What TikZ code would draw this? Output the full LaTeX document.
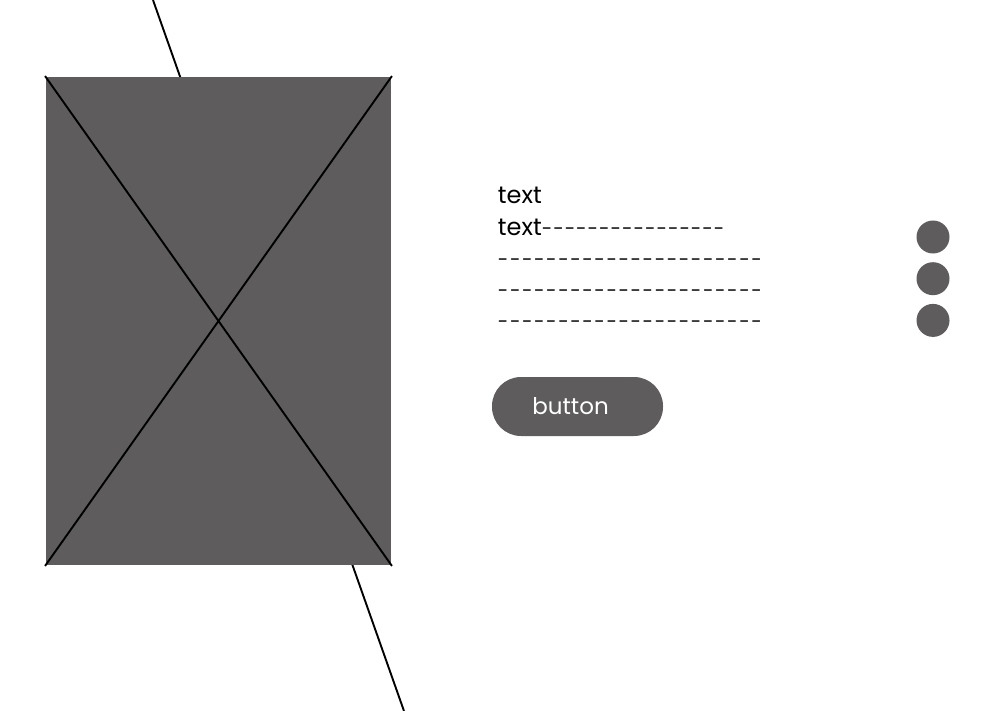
\documentclass[tikz,border=0pt]{standalone}
\usepackage{fontspec}
\setmainfont{Poppins}
\newfontfamily\dashfont[LetterSpace=8.4]{Poppins}
\usetikzlibrary{positioning}
\definecolor{wiregray}{RGB}{94,92,93}
\newcommand{\dashes}[1]{{\dashfont\fontsize{19}{28}\selectfont#1}}

\begin{document}
\begin{tikzpicture}[%
    x=1pt, y=-1pt,
    line width=1.9pt,
    node distance=8.7pt,
    placeholder/.style={fill=wiregray, draw=none, inner sep=0pt, minimum width=345pt, minimum height=488pt},
    copy/.style={anchor=base west, inner sep=0pt, font=\fontsize{24}{28}\selectfont},
    pill/.style={fill=wiregray, draw=none, rounded corners=29pt, minimum width=171pt, minimum height=59pt, text=white, font=\fontsize{23}{28}\selectfont},
    dot/.style={circle, fill=wiregray, draw=none, minimum size=33pt, inner sep=0pt, outer sep=0pt}
  ]
  \useasboundingbox (0,0) rectangle (984,711);

  % line behind the image box
  \coordinate (top) at (153,0);
  \coordinate (bottom) at (404,711);
  \draw (top) -- (bottom);

  \node[placeholder] (photo) at (218.5,321) {};
  \draw (photo.north west) -- (photo.south east)
        (photo.north east) -- (photo.south west);

  \node[copy] (title) at (497,204) {text};
  \node[copy] (line1) at (497,236) {text\dashes{\addfontfeature{LetterSpace=5.3}----------------}};
  \node[copy] (line2) at (497,266) {\dashes{----------------------}};
  \node[copy] (line3) at (497,297) {\dashes{----------------------}};
  \node[copy] (line4) at (497,328) {\dashes{----------------------}};

  \node[pill] (button) at (577.5,406.5) {button\kern14pt};

  \node[dot] (dotA) at (933,237) {};
  \node[dot, below=of dotA] (dotB) {};
  \node[dot, below=of dotB] (dotC) {};

\end{tikzpicture}
\end{document}
